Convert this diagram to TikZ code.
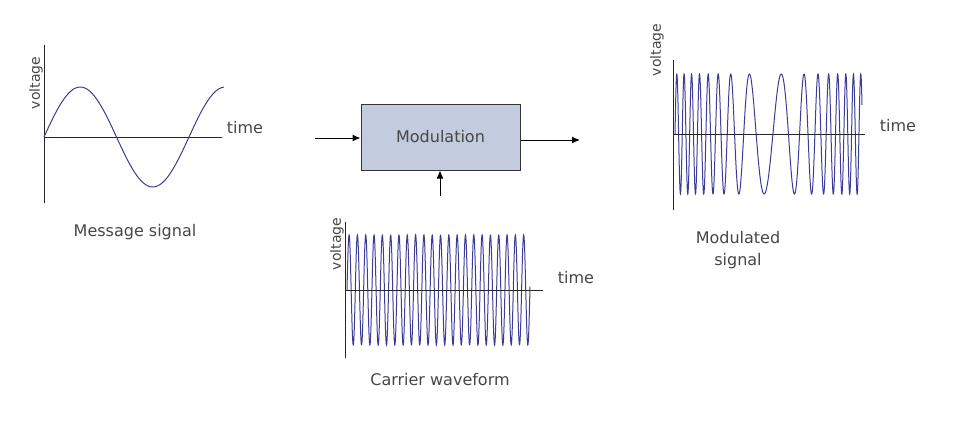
\documentclass[tikz,border=0pt]{standalone}
\usepackage{fontspec}
\usetikzlibrary{arrows.meta}
\setmainfont{DejaVu Sans}
\definecolor{wave}{RGB}{60,60,150}
\definecolor{boxfill}{RGB}{195,203,222}
\definecolor{txt}{RGB}{70,70,70}
\begin{document}
\begin{tikzpicture}[x=1pt,y=-1pt,
  lbl/.style={text=txt,font=\fontsize{16}{18}\selectfont,inner sep=0},
  vlbl/.style={text=txt,font=\fontsize{14}{16}\selectfont,rotate=90,inner sep=0},
  ax/.style={draw=black!85,line width=1pt},
  wv/.style={draw=wave,line width=1pt},
  arr/.style={draw=black,line width=1pt,-{Latex[length=8pt,width=7pt]}}]
\useasboundingbox (0,0) rectangle (959,424);
% message signal
\draw[ax] (44,45) -- (44,203);
\draw[ax] (44,137) -- (222,137);
\draw[wv,domain=44:224,samples=120,smooth] plot (\x,{137-50*sin((\x-44)/145*360)});
\node[vlbl] (mv) at (36,83) {voltage};
\node[lbl] (mt) at (245,128) {time};
\node[lbl] (ms) at (135,232) {Message signal};
% modulation box
\node[draw=black!80,fill=boxfill,line width=1pt,minimum width=159,minimum height=66,text=txt,font=\fontsize{16}{18}\selectfont] (mod) at (440.5,137) {Modulation};
\coordinate (in) at (315,138);
\coordinate (out) at (580,140);
\coordinate (cin) at (440,196);
\draw[arr] (in) -- (mod.west|-in);
\draw[arr] (mod.east|-out) -- (out);
\draw[arr] (cin) -- (mod.south-|cin);
% carrier
\draw[wv,domain=347:530,samples=900] plot (\x,{290-55*sin(43.3*(\x-347))});
\draw[ax] (345,222) -- (345,358);
\draw[ax] (345,290) -- (543,290);
\node[vlbl] (cv) at (337,244) {voltage};
\node[lbl] (ct) at (576,278) {time};
\node[lbl] (cw) at (440,380) {Carrier waveform};
% modulated
\draw[wv,domain=675:862,samples=1200] plot (\x,{134-60*sin(30*(\x-675)-600*sin(1.895*(\x-770))-600*sin(1.895*95))});
\draw[ax] (673,60) -- (673,210);
\draw[ax] (673,134) -- (865,134);
\node[vlbl] (fv) at (657,50) {voltage};
\node[lbl] (ft) at (898,126) {time};
\node[lbl,align=center,font=\fontsize{16}{22}\selectfont] (fs) at (738,250) {Modulated\\signal};
\end{tikzpicture}
\end{document}
